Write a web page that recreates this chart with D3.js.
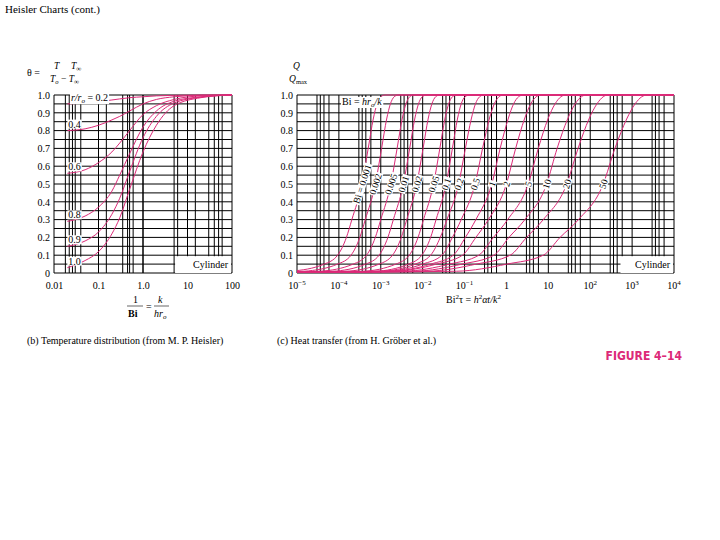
<!DOCTYPE html>
<html><head><meta charset="utf-8">
<script src="https://cdn.jsdelivr.net/npm/d3@7/dist/d3.min.js"></script>
<style>body{margin:0;background:#fff}text{font-family:"Liberation Serif","DejaVu Serif",serif;white-space:pre}</style>
</head><body><svg id="c" width="720" height="540"></svg>
<script>
// ---------- data ----------
const leftXTicks = [0.01, 0.1, 1, 10, 100];
const leftXTickLabels = ["0.01", "0.1", "1.0", "10", "100"];
const yTicks = [0, 0.1, 0.2, 0.3, 0.4, 0.5, 0.6, 0.7, 0.8, 0.9, 1.0];
const yTickLabels = ["0", "0.1", "0.2", "0.3", "0.4", "0.5", "0.6", "0.7", "0.8", "0.9", "1.0"];
const leftVGrid = [0.018, 0.022, 0.026, 0.03, 0.04, 0.1, 0.15, 0.35, 0.45, 0.5, 0.6, 1.0, 5, 6, 15, 30, 40, 50, 60];
const rRatios = ["r/ro = 0.2", "0.4", "0.6", "0.8", "0.9", "1.0"];
const leftX = [0.02, 0.05, 0.1, 0.2, 0.3, 0.5, 1, 2, 5, 20, 100];
const leftTheta = [
  [0.95, 0.955, 0.962, 0.972, 0.978, 0.985, 0.99, 0.995, 0.998, 1, 1],
  [0.80, 0.81, 0.83, 0.86, 0.88, 0.91, 0.95, 0.975, 0.99, 0.998, 1],
  [0.56, 0.58, 0.62, 0.68, 0.73, 0.80, 0.89, 0.94, 0.975, 0.995, 1],
  [0.29, 0.32, 0.37, 0.46, 0.55, 0.67, 0.82, 0.91, 0.965, 0.99, 1],
  [0.15, 0.18, 0.23, 0.33, 0.42, 0.57, 0.76, 0.88, 0.955, 0.988, 1],
  [0.03, 0.07, 0.12, 0.22, 0.31, 0.47, 0.68, 0.83, 0.94, 0.985, 1]
];
const rightXTicksExp = [-5, -4, -3, -2, -1, 0, 1, 2, 3, 4];
const rightVGridMult = [3, 3.6, 4.4, 5.8];
const biLabels = ["Bi = 0.001", "0.002", "0.005", "0.01", "0.02", "0.05", "0.1", "0.2", "0.5", "1", "2", "5", "10", "20", "50"];
const qLevels = [0.01, 0.05, 0.1, 0.2, 0.3, 0.5, 0.7, 0.865, 0.95, 0.99, 1.0];
// log10(Bi^2 tau) at each Q/Qmax level, per Bi curve
const qLogX = [
  [-5.15,-4.35,-4.03,-3.82,-3.69,-3.45,-3.30,-3.18,-3.09,-3.00,-2.90],
  [-4.83,-4.03,-3.71,-3.50,-3.37,-3.13,-2.98,-2.86,-2.77,-2.68,-2.58],
  [-4.46,-3.66,-3.34,-3.13,-3.00,-2.76,-2.61,-2.49,-2.40,-2.31,-2.21],
  [-4.16,-3.36,-3.04,-2.83,-2.70,-2.46,-2.31,-2.19,-2.10,-2.01,-1.91],
  [-3.84,-3.04,-2.72,-2.51,-2.38,-2.14,-1.99,-1.87,-1.78,-1.69,-1.59],
  [-3.44,-2.64,-2.32,-2.11,-1.98,-1.74,-1.59,-1.47,-1.38,-1.29,-1.19],
  [-3.14,-2.34,-2.02,-1.81,-1.68,-1.44,-1.29,-1.17,-1.08,-0.99,-0.89],
  [-3.02,-2.18,-1.81,-1.58,-1.42,-1.14,-0.98,-0.84,-0.74,-0.64,-0.54],
  [-2.90,-2.00,-1.54,-1.29,-1.08,-0.75,-0.57,-0.41,-0.29,-0.18,-0.08],
  [-2.77,-1.81,-1.27,-0.98,-0.73,-0.35,-0.15,0.04,0.17,0.29,0.40],
  [-2.69,-1.67,-1.05,-0.73,-0.43,0.00,0.22,0.43,0.58,0.71,0.82],
  [-2.44,-1.36,-0.66,-0.31,0.03,0.52,0.76,0.99,1.16,1.30,1.41],
  [-2.18,-1.06,-0.30,0.06,0.44,0.96,1.21,1.46,1.64,1.79,1.90],
  [-1.88,-0.72,0.09,0.48,0.88,1.44,1.71,1.97,2.16,2.31,2.43],
  [-1.19,0.01,0.88,1.28,1.72,2.31,2.59,2.87,3.07,3.23,3.35]
];

// ---------- drawing ----------
const svg = d3.select("#c");
const pink = "#dc2a78";
svg.append("text").attr("x", 5).attr("y", 13).attr("font-size", 11).text("Heisler Charts (cont.)");

const y = d3.scaleLinear().domain([0, 1]).range([273, 95]);
const xl = d3.scaleLog().domain([0.01, 100]).range([54, 232]);
const xr = d3.scaleLog().domain([1e-5, 1e4]).range([297, 674]);
const hGrid = d3.range(0, 21).map(i => i * 0.05);

function bgText(parent, build) {
  const g = parent.append("g");
  const r = g.append("rect").attr("fill", "#fff");
  const t = build(g);
  const bb = t.node().getBBox();
  r.attr("x", bb.x - 1).attr("y", bb.y + 1).attr("width", bb.width + 2).attr("height", bb.height - 2);
  return g;
}
function grid(g, x, vlines, x0, x1) {
  g.selectAll(".h").data(hGrid).join("line")
    .attr("x1", x(x0)).attr("x2", x(x1)).attr("y1", d => y(d)).attr("y2", d => y(d))
    .attr("stroke", "#000").attr("stroke-width", 1);
  g.selectAll(".v").data(vlines).join("line")
    .attr("x1", d => x(d)).attr("x2", d => x(d)).attr("y1", y(0)).attr("y2", y(1))
    .attr("stroke", "#000").attr("stroke-width", 1);
}
function fmtAxis(a) { a.select(".domain").remove(); a.selectAll("text").attr("font-size", 10).attr("font-family", "Liberation Serif"); }
// left
const gl = svg.append("g");
grid(gl, xl, leftVGrid.concat(leftXTicks), 0.01, 100);
gl.append("rect").attr("x", xl(5)+1).attr("y", y(0.1)+1).attr("width", xl(100)-xl(5)-2).attr("height", y(0)-y(0.1)-1).attr("fill", "#fff");
gl.append("text").attr("x", xl(100)-4).attr("y", y(0.03)).attr("text-anchor", "end").attr("font-size", 10).text("Cylinder");
gl.append("g").attr("transform", `translate(0,${y(0)})`)
  .call(d3.axisBottom(xl).tickValues(leftXTicks).tickFormat((d, i) => leftXTickLabels[i]).tickSize(0).tickPadding(9)).call(fmtAxis);
gl.append("g").attr("transform", `translate(${xl(0.01)},0)`)
  .call(d3.axisLeft(y).tickValues(yTicks).tickFormat((d, i) => yTickLabels[i]).tickSize(0).tickPadding(4)).call(fmtAxis);
const lineL = d3.line().x(d => xl(d[0])).y(d => y(d[1])).curve(d3.curveMonotoneX);
leftTheta.forEach(vals => {
  gl.append("path").attr("d", lineL(leftX.map((x, i) => [x, vals[i]]))).attr("fill", "none").attr("stroke", pink).attr("stroke-width", 1);
});
rRatios.forEach((lab, i) => {
  bgText(gl, g => {
    const t = g.append("text").attr("x", i === 0 ? xl(0.024) : xl(0.021)).attr("y", i === 0 ? y(0.965) : y(leftTheta[i][0]) - 3).attr("font-size", 10);
    if (i === 0) {
      t.append("tspan").attr("font-style", "italic").text("r/r");
      t.append("tspan").attr("font-size", 7).attr("dy", 2).attr("font-style", "italic").text("o");
      t.append("tspan").attr("dy", -2).text(" = 0.2");
    } else t.text(lab);
    return t;
  });
});
// left labels
svg.append("text").attr("x", 27).attr("y", 76).attr("font-size", 10).text("θ =");
const num = svg.append("text").attr("x", 54).attr("y", 69).attr("font-size", 9.5).attr("font-style", "italic");
num.append("tspan").text("T     T");
num.append("tspan").attr("font-size", 7).attr("dy", 2).text("∞");
const den = svg.append("text").attr("x", 50).attr("y", 82).attr("font-size", 9.5).attr("font-style", "italic");
den.append("tspan").text("T");
den.append("tspan").attr("font-size", 6.5).attr("dy", 2).text("o");
den.append("tspan").attr("dy", -2).attr("font-style", "normal").text(" − ");
den.append("tspan").text("T");
den.append("tspan").attr("font-size", 7).attr("dy", 2).text("∞");
svg.append("text").attr("x", 133).attr("y", 303).attr("font-size", 10).text("1");
svg.append("line").attr("x1", 127).attr("x2", 143).attr("y1", 306).attr("y2", 306).attr("stroke", "#000").attr("stroke-width", 0.6);
svg.append("text").attr("x", 128).attr("y", 317).attr("font-size", 10).attr("font-weight", "bold").text("Bi");
svg.append("text").attr("x", 146).attr("y", 310).attr("font-size", 10).text("=");
svg.append("text").attr("x", 158).attr("y", 303).attr("font-size", 10).attr("font-style", "italic").text("k");
svg.append("line").attr("x1", 154).attr("x2", 169).attr("y1", 306).attr("y2", 306).attr("stroke", "#000").attr("stroke-width", 0.6);
const hr = svg.append("text").attr("x", 154).attr("y", 317).attr("font-size", 10).attr("font-style", "italic");
hr.append("tspan").text("hr"); hr.append("tspan").attr("font-size", 7).attr("dy", 2).text("o");
svg.append("text").attr("x", 27).attr("y", 344).attr("font-size", 10).text("(b) Temperature distribution (from M. P. Heisler)");

// right
const gr = svg.append("g");
const rV = [];
rightXTicksExp.forEach(e => rightVGridMult.forEach(m => { const v = m * Math.pow(10, e); if (v < 1e4) rV.push(v); }));
grid(gr, xr, rV.concat(rightXTicksExp.map(e => Math.pow(10, e))), 1e-5, 1e4);
gr.append("rect").attr("x", xr(500)+1).attr("y", y(0.1)+1).attr("width", xr(1e4)-xr(500)-2).attr("height", y(0)-y(0.1)-1).attr("fill", "#fff");
gr.append("text").attr("x", xr(1e4)-4).attr("y", y(0.03)).attr("text-anchor", "end").attr("font-size", 10).text("Cylinder");
gr.append("g").attr("transform", `translate(0,${y(0)})`)
  .call(d3.axisBottom(xr).tickValues(rightXTicksExp.map(e => Math.pow(10, e))).tickFormat("").tickSize(0))
  .call(a => a.select(".domain").remove());
rightXTicksExp.forEach(e => {
  const t = gr.append("text").attr("x", xr(Math.pow(10, e))).attr("y", y(0) + 16).attr("text-anchor", "middle").attr("font-size", 10);
  if (e === 0) t.text("1"); else if (e === 1) t.text("10");
  else { t.append("tspan").text("10"); t.append("tspan").attr("dy", -4).attr("font-size", 7).text(e < 0 ? "−" + (-e) : e); }
});
gr.append("g").attr("transform", `translate(${xr(1e-5)},0)`)
  .call(d3.axisLeft(y).tickValues(yTicks).tickFormat((d, i) => yTickLabels[i]).tickSize(0).tickPadding(4)).call(fmtAxis);
gr.append("clipPath").attr("id", "cr").append("rect").attr("x", xr(1e-5)).attr("y", y(1) - 2).attr("width", xr(1e4) - xr(1e-5)).attr("height", y(0) - y(1) + 2);
const lineR = d3.line().x(d => xr(d[0])).y(d => y(d[1])).curve(d3.curveMonotoneX);
const curves = gr.append("g").attr("clip-path", "url(#cr)");
qLogX.forEach(lx => {
  const pts = [[1e-6, 0.001]].concat(lx.map((l, i) => [Math.pow(10, l), qLevels[i]])).concat([[1e4, 1]]);
  curves.append("path").attr("d", lineR(pts)).attr("fill", "none").attr("stroke", pink).attr("stroke-width", 1);
});
qLogX.forEach((lx, i) => {
  const px = xr(Math.pow(10, lx[5])), py = y(0.5);
  const g = bgText(gr, g => g.append("text").attr("text-anchor", "middle").attr("dy", 3.5).attr("font-size", 9.5).text(biLabels[i]));
  g.attr("transform", `translate(${px},${py}) rotate(-72)`);
});
bgText(gr, g => {
  const bt = g.append("text").attr("x", 342).attr("y", 105).attr("font-size", 10);
  bt.append("tspan").text("Bi = ");
  bt.append("tspan").attr("font-style", "italic").text("hr");
  bt.append("tspan").attr("font-size", 7).attr("dy", 2).attr("font-style", "italic").text("o");
  bt.append("tspan").attr("dy", -2).attr("font-style", "italic").text("/k");
  return bt;
});
svg.append("text").attr("x", 293).attr("y", 69).attr("font-size", 9.5).attr("font-style", "italic").text("Q");
const qm = svg.append("text").attr("x", 289).attr("y", 82).attr("font-size", 9.5).attr("font-style", "italic");
qm.append("tspan").text("Q"); qm.append("tspan").attr("font-size", 6.5).attr("dy", 2).attr("font-style", "normal").text("max");
const xt = svg.append("text").attr("x", 446).attr("y", 303).attr("font-size", 10);
xt.append("tspan").text("Bi");
xt.append("tspan").attr("dy", -4).attr("font-size", 7).text("2");
xt.append("tspan").attr("dy", 4).text("τ = ");
xt.append("tspan").attr("font-style", "italic").text("h");
xt.append("tspan").attr("dy", -4).attr("font-size", 7).text("2");
xt.append("tspan").attr("dy", 4).attr("font-style", "italic").text("αt/k");
xt.append("tspan").attr("dy", -4).attr("font-size", 7).text("2");
svg.append("text").attr("x", 277).attr("y", 344).attr("font-size", 10).text("(c) Heat transfer (from H. Gröber et al.)");
svg.append("text").attr("x", 682).attr("y", 360).attr("text-anchor", "end").attr("font-size", 12).attr("font-weight", "bold")
  .attr("fill", pink).attr("style", "font-family:'Liberation Sans Narrow','DejaVu Sans Condensed',sans-serif").text("FIGURE 4–14");
</script></body></html>
